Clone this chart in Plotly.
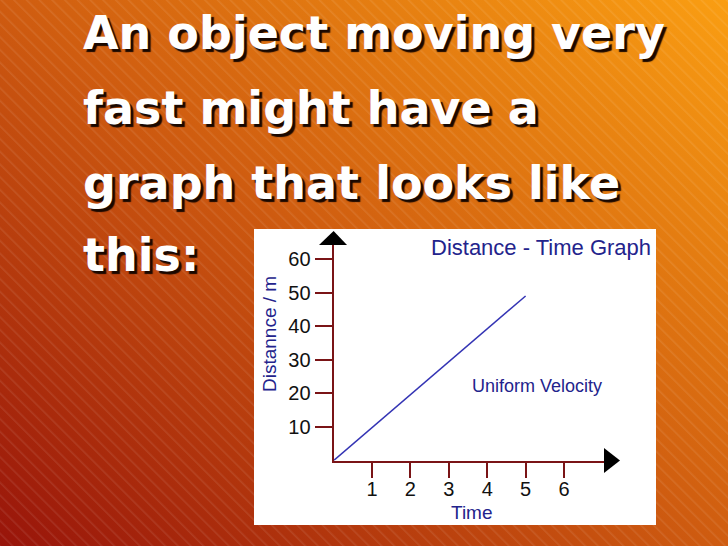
import base64
import plotly.graph_objects as go

# ---- data ----
time_vals = [0, 5]
distance_vals = [0, 49]
x_ticks = [1, 2, 3, 4, 5, 6]
y_ticks = [10, 20, 30, 40, 50, 60]
title_lines = ["An object moving very", "fast might have a", "graph that looks like", "this:"]
chart_title = "Distance - Time Graph"
series_label = "Uniform Velocity"
x_title = "Time"
y_title = "Distannce / m"

W, H = 728, 546


def px(x):
    return x / W


def py(y):
    return 1 - y / H


# background gradient as svg image
svg = f'''<svg xmlns="http://www.w3.org/2000/svg" width="{W}" height="{H}" viewBox="0 0 {W} {H}">
<defs>
<linearGradient id="g" x1="0" y1="1" x2="1" y2="0">
<stop offset="0" stop-color="#98140a"/>
<stop offset="0.5" stop-color="#cf5c10"/>
<stop offset="1" stop-color="#fa9e12"/>
</linearGradient>
<pattern id="p" width="9" height="9" patternUnits="userSpaceOnUse" patternTransform="rotate(-45)">
<rect x="0" y="0" width="1.6" height="9" fill="#ffffff" fill-opacity="0.09"/>
</pattern>
</defs>
<rect x="0" y="0" width="{W}" height="{H}" fill="url(#g)"/>
<rect x="0" y="0" width="{W}" height="{H}" fill="url(#p)"/>
</svg>'''
bg_src = "data:image/svg+xml;base64," + base64.b64encode(svg.encode()).decode()

axis_col = "#7a1416"
navy = "#23238c"

fig = go.Figure()
fig.add_trace(go.Scatter(x=time_vals, y=distance_vals, mode="lines",
                         line=dict(color="#3434b4", width=1.5),
                         hoverinfo="skip", showlegend=False))

x0_px, x_unit = 333.6, 38.4
y0_px, y_unit = 460.6, 3.36
x_end_px = 605.0
y_top_px = 244.0

tick_font = dict(family="Liberation Sans, Arial", size=20, color="#111111")
fig.update_layout(
    width=W, height=H,
    margin=dict(l=0, r=0, t=0, b=0),
    paper_bgcolor="#c85010",
    plot_bgcolor="rgba(0,0,0,0)",
    showlegend=False,
    images=[dict(source=bg_src, xref="paper", yref="paper", x=0, y=1,
                 sizex=1, sizey=1, sizing="stretch", layer="below",
                 xanchor="left", yanchor="top")],
    xaxis=dict(domain=[px(x0_px), px(x_end_px)],
               range=[0, (x_end_px - x0_px) / x_unit],
               tickvals=x_ticks, ticks="outside", ticklen=15, tickwidth=2,
               tickcolor=axis_col, showline=True, linecolor=axis_col, linewidth=2,
               showgrid=False, zeroline=False, tickfont=tick_font,
               ticklabelstandoff=-6),
    yaxis=dict(domain=[py(y0_px), py(y_top_px)],
               range=[0, (y0_px - y_top_px) / y_unit],
               tickvals=y_ticks, ticks="outside", ticklen=17, tickwidth=1.5,
               tickcolor=axis_col, showline=True, linecolor=axis_col, linewidth=2,
               showgrid=False, zeroline=False, tickfont=tick_font),
)

# white chart panel
fig.add_shape(type="rect", xref="paper", yref="paper",
              x0=px(254), x1=px(656), y0=py(525), y1=py(229),
              fillcolor="white", line=dict(width=0), layer="below")

# arrow heads
fig.add_shape(type="path", xref="paper", yref="paper",
              path=f"M {px(319)} {py(245)} L {px(333.6)} {py(231)} L {px(347)} {py(245)} Z",
              fillcolor="#000000", line=dict(width=0))
fig.add_shape(type="path", xref="paper", yref="paper",
              path=f"M {px(604)} {py(448)} L {px(620)} {py(460.6)} L {px(604)} {py(473)} Z",
              fillcolor="#000000", line=dict(width=0))

txt_font = "Liberation Sans, Arial"
labels = [
    (chart_title, 541, 248, 22, 0),
    (series_label, 537, 386, 18, 0),
    (x_title, 472, 512, 19, 0),
    (y_title, 269, 334, 19, -90),
]
for text, xc, yc, size, ang in labels:
    fig.add_annotation(text=text, xref="paper", yref="paper", x=px(xc), y=py(yc),
                       xanchor="center", yanchor="middle", showarrow=False,
                       textangle=ang, font=dict(family=txt_font, size=size, color=navy))

# slide title text
line_centers = [33, 108, 183, 255]
for line, yc in zip(title_lines, line_centers):
    fig.add_annotation(text=line, xref="paper", yref="paper", x=px(81), y=py(yc),
                       xanchor="left", yanchor="middle", showarrow=False,
                       font=dict(family="DejaVu Sans", size=46, color="white", weight=700,
                                 shadow="3px 3px 1px #1a0800"))

fig.write_html("out.html", config={"displayModeBar": False},
               post_script="document.body.style.margin='0';")
